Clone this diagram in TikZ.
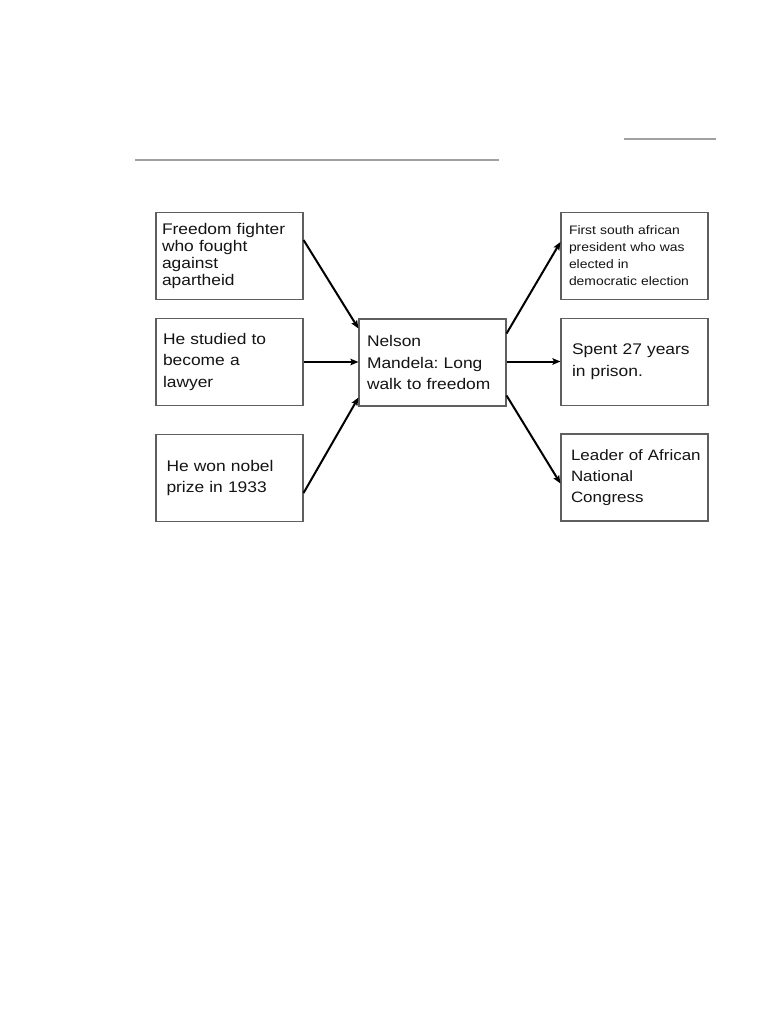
\documentclass[tikz,border=0pt]{standalone}
\usepackage{fontspec}
\setmainfont{Liberation Sans}[FakeStretch=1.13]
\frenchspacing
\usetikzlibrary{arrows.meta}
\definecolor{boxgray}{RGB}{95,95,95}
\definecolor{rulegray}{RGB}{160,160,160}
\definecolor{txt}{RGB}{20,20,20}
\tikzset{
  rulestyle/.style={draw=rulegray, line width=1.6pt},
  boxstyle/.style 2 args={draw=boxgray, line width=1.1pt, minimum height=87pt,
    inner xsep=#1, inner ysep=2pt, text width=#2, align=left, text=txt,
    font=\fontsize{15.4}{21.7}\selectfont},
  arrowstyle/.style={draw=black, line width=2pt,
    -{Stealth[length=8pt,width=6.5pt,inset=1.5pt]}}
}
\begin{document}
\begin{tikzpicture}[x=1pt,y=-1pt]
\useasboundingbox[fill=white] (0,0) rectangle (768,1024);
% answer lines at top
\coordinate (r1a) at (624,139);
\coordinate (r1b) at (716,139);
\coordinate (r2a) at (135,160);
\coordinate (r2b) at (499,160);
\draw[rulestyle] (r1a) -- (r1b);
\draw[rulestyle] (r2a) -- (r2b);
% left boxes
\node[boxstyle={6pt}{135pt}, font=\fontsize{15.4}{17.3}\selectfont] (L1) at (229.5,256)
  {Freedom fighter\\who fought\\against\\apartheid};
\node[boxstyle={7pt}{133pt}] (L2) at (229.5,362)
  {He studied to\\become a\\lawyer};
\node[boxstyle={10.5pt}{126pt}] (L3) at (229.5,478)
  {He won nobel\\prize in 1933};
% centre box
\node[boxstyle={8pt}{131pt}] (C) at (432.5,362.5)
  {Nelson\\Mandela: Long\\walk to freedom};
% right boxes
\node[boxstyle={8pt}{131pt}, font=\fontsize{12.3}{17}\selectfont] (R1) at (634.5,256)
  {First south african\\president who was\\elected in\\democratic election};
\node[boxstyle={11pt}{125pt}] (R2) at (634.5,362)
  {Spent 27 years\\in prison.};
\node[boxstyle={10pt}{127pt}, font=\fontsize{15}{21}\selectfont] (R3) at (634.5,477.5)
  {\mbox{Leader of African}\\National\\Congress};
% connectors
\draw[arrowstyle] ([yshift=16pt]L1.east) -- ([yshift=34pt]C.west);
\draw[arrowstyle] (L2.east) -- (L2.east -| C.west);
\draw[arrowstyle] ([yshift=-15pt]L3.east) -- ([yshift=-35pt]C.west);
\draw[arrowstyle] ([yshift=29pt]C.east) -- ([yshift=14pt]R1.west);
\draw[arrowstyle] ([yshift=1pt]C.east) -- ([yshift=1pt]C.east -| R2.west);
\draw[arrowstyle] ([yshift=-33pt]C.east) -- ([yshift=-6pt]R3.west);
\end{tikzpicture}
\end{document}
